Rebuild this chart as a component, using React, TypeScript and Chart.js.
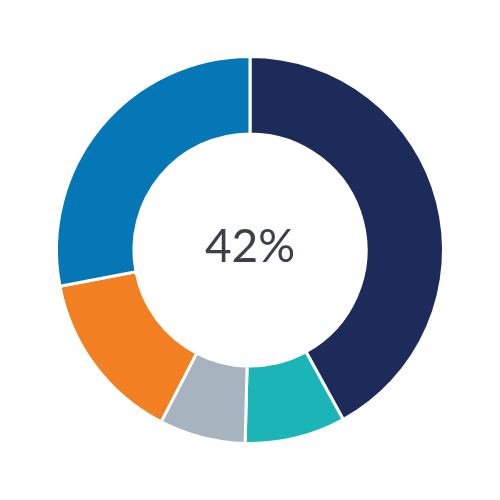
import { useEffect, useRef } from 'react';
import { Chart, registerables } from 'chart.js';

Chart.register(...registerables);

const labels = ['A', 'B', 'C', 'D', 'E'];
const values = [42, 8.4, 7.2, 14.4, 28];
const colors = ['#1c2b5a', '#1bb5b7', '#a8b3c0', '#f27f22', '#0577b6'];
const centerLabel = '42%';

export default function App() {
    const chartRef = useRef<HTMLCanvasElement>(null);
    const chartInstance = useRef<Chart | null>(null);

    useEffect(() => {
        document.body.style.margin = '0';
        if (chartRef.current) {
            chartInstance.current?.destroy();
            const ctx = chartRef.current.getContext('2d');
            if (ctx) {
                chartInstance.current = new Chart(ctx, {
                    type: 'doughnut',
                    data: {
                        labels,
                        datasets: [
                            {
                                data: values,
                                backgroundColor: colors,
                                borderColor: '#ffffff',
                                borderWidth: 3,
                            },
                        ],
                    },
                    options: {
                        responsive: false,
                        animation: false,
                        cutout: '60%',
                        layout: { padding: 55 },
                        plugins: {
                            legend: { display: false },
                            tooltip: { enabled: false },
                        },
                    },
                });
            }
        }
        return () => {
            chartInstance.current?.destroy();
        };
    }, []);

    return (
        <div style={{ position: 'relative', width: 500, height: 500, background: '#fff' }}>
            <canvas ref={chartRef} width={500} height={500} />
            <div
                style={{
                    position: 'absolute',
                    left: 0,
                    top: -6,
                    width: 500,
                    height: 500,
                    display: 'flex',
                    alignItems: 'center',
                    justifyContent: 'center',
                    fontFamily: 'Lato, "Open Sans", sans-serif',
                    fontWeight: 400,
                    fontSize: 46,
                    color: '#3b404b',
                    pointerEvents: 'none',
                }}
            >
                {centerLabel}
            </div>
        </div>
    );
}
